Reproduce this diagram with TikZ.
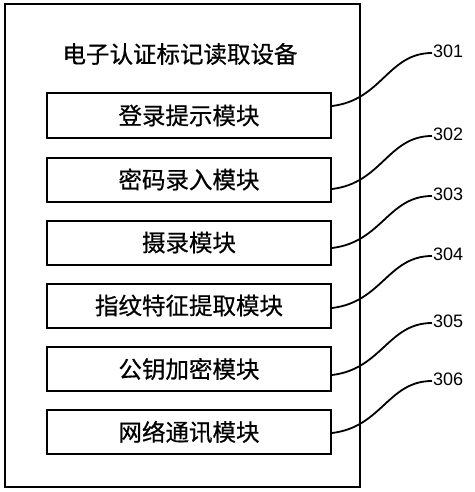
\documentclass[tikz,border=0pt]{standalone}
\usepackage{fontspec}
\setmainfont{Liberation Sans}
\newfontfamily\cjk[FakeBold=0.6]{Noto Sans CJK SC}
\begin{document}
\begin{tikzpicture}[x=1pt,y=-1pt,
  modbox/.style={draw,line width=2pt,minimum width=284pt,minimum height=44pt,inner sep=0pt,font=\cjk\fontsize{23.5}{24}\selectfont},
  lead/.style={line width=1.8pt},
  numlabel/.style={anchor=west,inner sep=1pt,font=\fontsize{18}{20}\selectfont}]
\useasboundingbox (0,0) rectangle (474,492);
\node[draw,line width=2pt,minimum width=355pt,minimum height=483pt,inner sep=0pt] (outer) at (182.5,245.5) {};
\node[inner sep=0pt,font=\cjk\fontsize{23.5}{24}\selectfont] (title) at (180,54) {电子认证标记读取设备};
\node[modbox] (b1) at (189,115.5) {登录提示模块};
\node[modbox] (b2) at (189,179.5) {密码录入模块};
\node[modbox] (b3) at (189,242.5) {摄录模块};
\node[modbox] (b4) at (189,305.5) {指纹特征提取模块};
\node[modbox] (b5) at (189,369) {公钥加密模块};
\node[modbox] (b6) at (189,432) {网络通讯模块};
\node[numlabel] (l1) at (432,51) {301};
\node[numlabel] (l2) at (432,134) {302};
\node[numlabel] (l3) at (432,194) {303};
\node[numlabel] (l4) at (432,254) {304};
\node[numlabel] (l5) at (432,321) {305};
\node[numlabel] (l6) at (432,379) {306};
\draw[lead] ([yshift=9.5pt]b1.east) .. controls (382,100) and (388,53) .. ([yshift=-2pt]l1.west);
\draw[lead] ([yshift=-9.5pt]b2.east) .. controls (382,183) and (388,136) .. ([yshift=-2pt]l2.west);
\draw[lead] ([yshift=-5.5pt]b3.east) .. controls (382,242) and (388,196) .. ([yshift=-2pt]l3.west);
\draw[lead] ([yshift=-2.5pt]b4.east) .. controls (382,302) and (388,256) .. ([yshift=-2pt]l4.west);
\draw[lead] ([yshift=-6pt]b5.east) .. controls (382,369) and (388,323) .. ([yshift=-2pt]l5.west);
\draw[lead] ([yshift=-1pt]b6.east) .. controls (382,427) and (388,381) .. ([yshift=-2pt]l6.west);
\end{tikzpicture}
\end{document}
